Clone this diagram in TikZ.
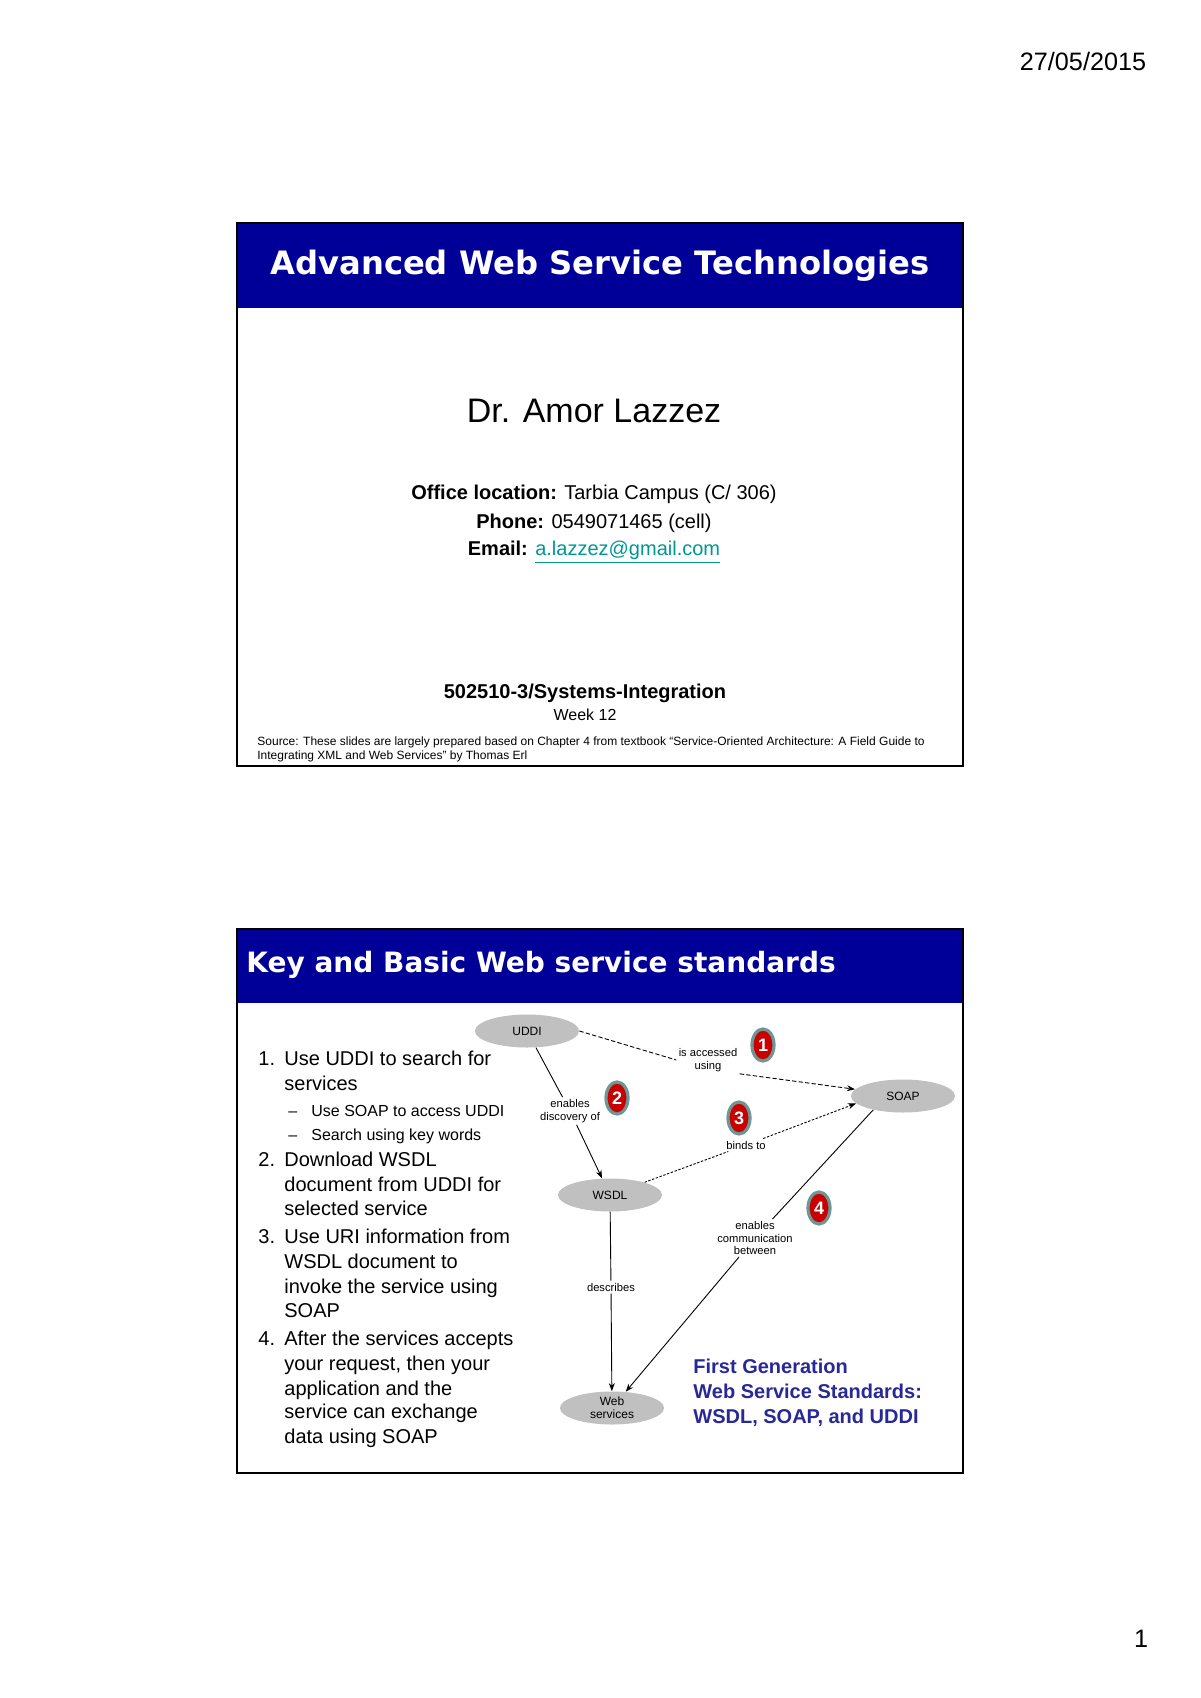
\documentclass[tikz,border=0pt]{standalone}
\usepackage{fontspec}
\setmainfont{Liberation Sans}
\newfontfamily\titlefont{DejaVu Sans}
\usetikzlibrary{shapes.geometric,arrows.meta}
\definecolor{hdrblue}{RGB}{0,0,153}
\definecolor{linkteal}{RGB}{0,150,150}
\definecolor{gentext}{RGB}{40,40,150}
\definecolor{ellgrey}{RGB}{192,192,192}
\definecolor{badgered}{RGB}{200,0,0}
\definecolor{badgeedge}{RGB}{110,150,150}
\begin{document}
\begin{tikzpicture}[x=0.5pt,y=-0.5pt,
  slidebox/.style={line width=1.3pt},
  hdr/.style={fill=hdrblue},
  hdrtext/.style={text=white,font=\titlefont\bfseries\fontsize{16.1}{19}\selectfont,inner sep=0pt},
  lst/.style={anchor=mid west,inner sep=0pt,font=\fontsize{10}{12}\selectfont},
  sublst/.style={anchor=mid west,inner sep=0pt,font=\fontsize{8}{9.5}\selectfont},
  std/.style={ellipse,fill=ellgrey,minimum width=52pt,minimum height=16.5pt,inner sep=0pt,font=\fontsize{6}{6.5}\selectfont,align=center},
  lbl/.style={inner sep=1pt,font=\fontsize{5.6}{6.2}\selectfont,align=center},
  badge/.style={ellipse,fill=badgered,draw=badgeedge,line width=1.6pt,minimum width=11pt,minimum height=16pt,inner sep=0pt,text=white,font=\bfseries\fontsize{9}{9}\selectfont},
  arr/.style={-{Stealth[length=4pt,width=3pt]}},
  conn/.style={line width=0.45pt},
  dsh/.style={dash pattern=on 2.2pt off 1.1pt},
  dtt/.style={dash pattern=on 1.2pt off 0.8pt}
]
\useasboundingbox (0,0) rectangle (1200,1698);
\fill[white] (0,0) rectangle (1200,1698);

% date and page number
\node[font=\fontsize{12.6}{14}\selectfont,inner sep=0pt] (date) at (1083,61) {27/05/2015};
\node[font=\fontsize{12.6}{14}\selectfont,inner sep=0pt] (pnum) at (1141,1639) {1};

% ---------- Slide 1 ----------
\fill[hdr] (237,223) rectangle (963,308);
\draw[slidebox] (237,223) rectangle (963,766);
\node[hdrtext] (t1) at (600,266) {Advanced Web Service Technologies};
\node[font=\fontsize{17}{20}\selectfont,inner sep=0pt] (author) at (594,411) {Dr. Amor Lazzez};
\node[font=\fontsize{10}{12}\selectfont,inner sep=0pt] (office) at (594,494) {\textbf{Office location:} Tarbia Campus (C/ 306)};
\node[font=\fontsize{10}{12}\selectfont,inner sep=0pt] (phone) at (594,523) {\textbf{Phone:} 0549071465 (cell)};
\node[font=\fontsize{10}{12}\selectfont,inner sep=0pt] (email) at (594,552) {\textbf{Email:} \textcolor{linkteal}{\underline{a.lazzez@gmail.com}}};
\node[font=\bfseries\fontsize{10}{12}\selectfont,inner sep=0pt] (course) at (585,693) {502510-3/Systems-Integration};
\node[font=\fontsize{8}{9}\selectfont,inner sep=0pt] (week) at (585,715) {Week 12};
\node[anchor=mid west,font=\fontsize{6}{7}\selectfont,inner sep=0pt] (src1) at (257,740) {Source: These slides are largely prepared based on Chapter 4 from textbook ``Service-Oriented Architecture: A Field Guide to};
\node[anchor=mid west,font=\fontsize{6}{7}\selectfont,inner sep=0pt] (src2) at (257,754) {Integrating XML and Web Services'' by Thomas Erl};

% ---------- Slide 2 ----------
\fill[hdr] (237,929) rectangle (963,1003);
\draw[slidebox] (237,929) rectangle (963,1473);
\node[hdrtext,anchor=mid west,font=\titlefont\bfseries\fontsize{14}{17}\selectfont] (t2) at (246,967) {Key and Basic Web service standards};

% list
\node[lst] (n1) at (258,1060) {1.};
\node[lst] (l1a) at (284,1060) {Use UDDI to search for};
\node[lst] (l1b) at (284,1085) {services};
\node[sublst] (d1) at (288,1111) {--};
\node[sublst] (s1) at (311,1111) {Use SOAP to access UDDI};
\node[sublst] (d2) at (288,1135) {--};
\node[sublst] (s2) at (311,1135) {Search using key words};
\node[lst] (n2) at (258,1161) {2.};
\node[lst] (l2a) at (284,1161) {Download WSDL};
\node[lst] (l2b) at (284,1186) {document from UDDI for};
\node[lst] (l2c) at (284,1210) {selected service};
\node[lst] (n3) at (258,1238) {3.};
\node[lst] (l3a) at (284,1238) {Use URI information from};
\node[lst] (l3b) at (284,1263) {WSDL document to};
\node[lst] (l3c) at (284,1288) {invoke the service using};
\node[lst] (l3d) at (284,1312) {SOAP};
\node[lst] (n4) at (258,1340) {4.};
\node[lst] (l4a) at (284,1340) {After the services accepts};
\node[lst] (l4b) at (284,1365) {your request, then your};
\node[lst] (l4c) at (284,1390) {application and the};
\node[lst] (l4d) at (284,1413) {service can exchange};
\node[lst] (l4e) at (284,1438) {data using SOAP};

% diagram nodes
\node[std] (uddi) at (527,1031) {UDDI};
\node[std] (soap) at (903,1096) {SOAP};
\node[std] (wsdl) at (610,1195) {WSDL};
\node[std] (ws) at (612,1408) {Web\\services};

% labels
\node[lbl] (lacc) at (708,1060) {is accessed\\using};
\node[lbl] (ldisc) at (570,1111) {enables\\discovery of};
\node[lbl] (lbind) at (746,1145) {binds to};
\node[lbl] (lcomm) at (755,1238) {enables\\communication\\between};
\node[lbl] (ldesc) at (611,1287) {describes};

% badges
\node[badge] (b1) at (763,1045) {1};
\node[badge] (b2) at (617,1098) {2};
\node[badge] (b3) at (739,1118) {3};
\node[badge] (b4) at (819,1208) {4};

% connectors
\draw[conn,dsh] (uddi.east) -- (lacc.west);
\draw[conn,dsh,arr] (lacc.south east) -- (soap.172);
\draw[conn] (uddi) -- (ldisc);
\draw[conn,arr] (ldisc) -- (wsdl);
\draw[conn,dtt] (wsdl) -- (lbind);
\draw[conn,dtt,arr] (lbind) -- (soap.189);
\draw[conn] (soap.205) -- (lcomm);
\draw[conn,arr] (lcomm) -- (ws);
\draw[conn] (wsdl) -- (ldesc);
\draw[conn,arr] (ldesc) -- (ws);

% caption
\node[anchor=mid west,align=left,inner sep=0pt,text=gentext,font=\bfseries\fontsize{10}{12.5}\selectfont] (gen) at (693,1418) {First Generation\\Web Service Standards:\\WSDL, SOAP, and UDDI};
\end{tikzpicture}
\end{document}
